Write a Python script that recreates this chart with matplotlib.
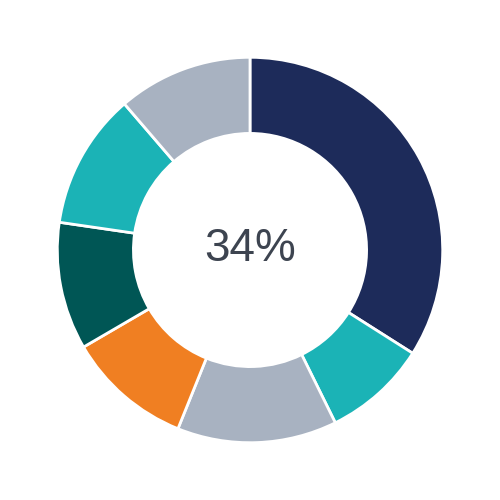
import matplotlib
matplotlib.use("Agg")
import matplotlib.pyplot as plt

labels = ["A", "B", "C", "D", "E", "F", "G"]
values = [34, 8.7, 13.4, 10.5, 10.7, 11.4, 11.3]
colors = ["#1d2b5a", "#1bb3b6", "#a8b2c1", "#f07f22", "#005655", "#1bb3b6", "#a8b2c1"]
center_text = "34%"

fig = plt.figure(figsize=(5, 5), dpi=100)
ax = fig.add_axes([0, 0, 1, 1])
ax.pie(values, colors=colors, startangle=90, counterclock=False,
       radius=1.0,
       wedgeprops=dict(width=0.395, edgecolor="white", linewidth=2.0))
lim = 250 / 192.7
ax.set_xlim(-lim, lim)
ax.set_ylim(-lim, lim)
ax.set_aspect("equal")
ax.axis("off")
ax.text(0, 0.005, center_text, ha="center", va="center", fontsize=33,
        color="#3d4450", family=["Liberation Sans", "DejaVu Sans"])
fig.savefig("out.png", dpi=100, facecolor="white")
